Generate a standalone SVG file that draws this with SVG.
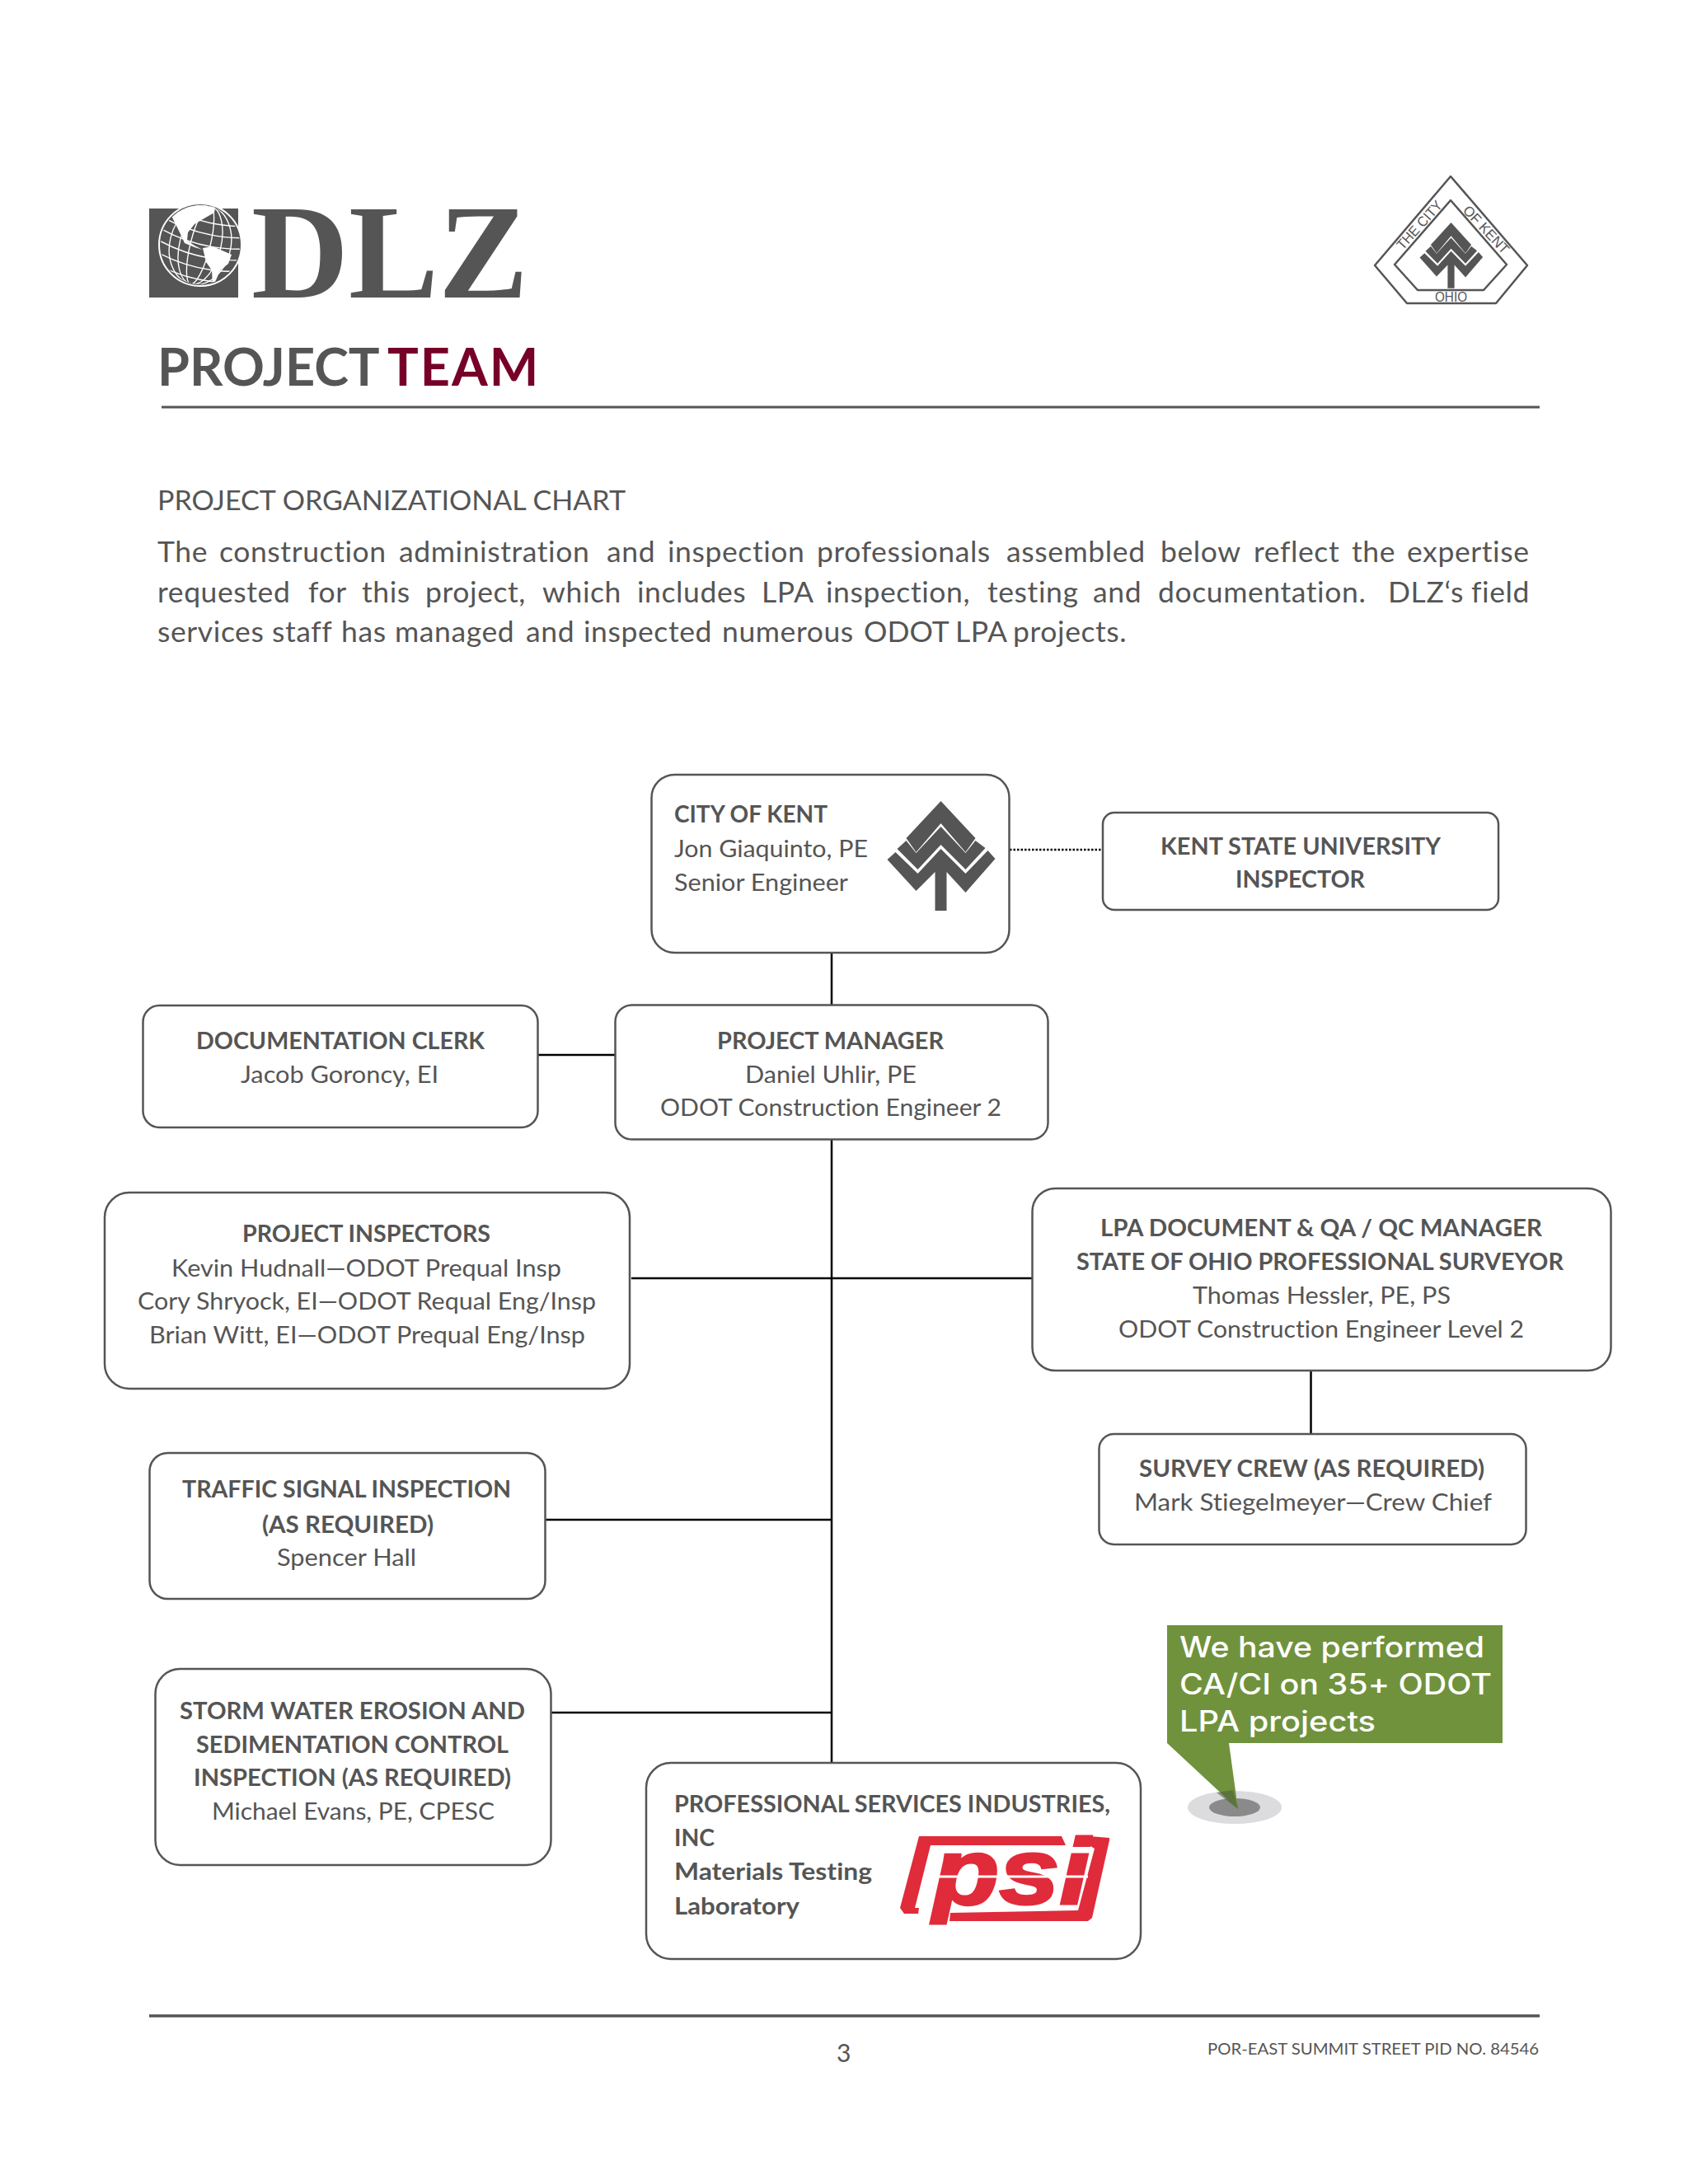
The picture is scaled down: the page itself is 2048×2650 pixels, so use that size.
<svg xmlns="http://www.w3.org/2000/svg" width="2048" height="2650" viewBox="0 0 2048 2650">
<style>
text{font-family:"Lato","Carlito","Liberation Sans",sans-serif;fill:#555;font-variant-ligatures:none}
.t{font-size:29px}
.b{font-size:29px;font-weight:700}
.p{font-size:35.5px;letter-spacing:.6px}
.box{fill:#fff;stroke:#555;stroke-width:2.5}
.conn{stroke:#000;stroke-width:2.5;fill:none}
.seal{fill:none;stroke:#555;stroke-width:2.5;stroke-linejoin:round}
.sealt{font-family:"Liberation Sans",sans-serif;font-size:17px;fill:#555}
.grid{fill:none;stroke:#fff;stroke-width:1.4}
.call{font-family:"Inter","Liberation Sans",sans-serif;font-size:35px;font-weight:500;fill:#fff}
.red{fill:#e02b3b}
</style>
<defs>
<symbol id="tree" overflow="visible">
<path fill="#555" d="M0 0L42 45L30 62L0 27L-30 62L-42 45ZM-42 48L-30 63L0 31L30 63L42 48L54 57L30 83L0 53L-28 83L-53 58ZM-55 62L-28 88L0 58L30 88L57 60L66 70L30 111L7 86L7 133L-7 133L-7 86L-30 109L-65 71Z"/>
</symbol>
<clipPath id="gc"><circle cx="243" cy="297" r="48"/></clipPath>
</defs>
<rect width="2048" height="2650" fill="#fff"/>

<g id="logo-dlz">
<rect x="181" y="253" width="108" height="108" fill="#555"/>
<circle cx="243" cy="297" r="50" fill="#555" stroke="#fff" stroke-width="2"/>
<g clip-path="url(#gc)">
<g class="grid" transform="rotate(14 243 297)">
<ellipse cx="243" cy="297" rx="12" ry="49"/><ellipse cx="243" cy="297" rx="25" ry="49"/><ellipse cx="243" cy="297" rx="37" ry="49"/>
<path d="M195 262Q243 275 291 262M193 276Q243 289 293 276M193 290Q243 303 293 290M193 304Q243 317 293 304M193 318Q243 331 293 318M195 332Q243 345 291 332"/>
</g>
<path fill="#fff" d="M208 262L225 250L262 247L260 258L246 266L236 272L228 282L227 292L236 298L246 303L236 300L224 295L218 282Z"/>
<path fill="#fff" d="M246 301L258 299L272 305L281 309L277 320L267 328L262 340L258 346L257 328L250 318Z"/>
</g>
<text x="305" y="361" font-size="164" font-weight="700" textLength="336" lengthAdjust="spacingAndGlyphs" style="font-family:'Liberation Serif',serif;fill:#555">DLZ</text>
</g>

<g id="logo-kent">
<path class="seal" d="M1760 214L1853 322L1815 368L1707 368L1668 322Z"/>
<path class="seal" d="M1760 243L1828 321L1800 352L1720 352L1692 321Z"/>
<use href="#tree" transform="translate(1760.5 270) scale(.585 .6)"/>
<text class="sealt" transform="translate(1702 304) rotate(-48)" textLength="73" lengthAdjust="spacingAndGlyphs">THE CITY</text>
<text class="sealt" transform="translate(1774 256) rotate(47)" textLength="73" lengthAdjust="spacingAndGlyphs">OF KENT</text>
<text class="sealt" x="1741" y="366" textLength="39" lengthAdjust="spacingAndGlyphs">OHIO</text>
</g>

<g id="heading">
<text x="191" y="468" font-size="63" font-weight="700">PROJECT <tspan x="470" letter-spacing="2" style="fill:#760028">TEAM</tspan></text>
<line x1="196" y1="494" x2="1868" y2="494" stroke="#555" stroke-width="3"/>
</g>

<g id="intro">
<text x="191" y="619" font-size="33" textLength="568" lengthAdjust="spacingAndGlyphs">PROJECT ORGANIZATIONAL CHART</text>
<text class="p" y="682"><tspan x="191">The</tspan> <tspan x="266">construction</tspan> <tspan x="484">administration</tspan> <tspan x="736">and</tspan> <tspan x="810">inspection</tspan> <tspan x="991">professionals</tspan> <tspan x="1221">assembled</tspan> <tspan x="1408">below</tspan> <tspan x="1521">reflect</tspan> <tspan x="1640">the</tspan> <tspan x="1707">expertise</tspan></text>
<text class="p" y="731"><tspan x="191">requested</tspan> <tspan x="374">for</tspan> <tspan x="439">this</tspan> <tspan x="516">project,</tspan> <tspan x="658">which</tspan> <tspan x="773">includes</tspan> <tspan x="924">LPA</tspan> <tspan x="1002">inspection,</tspan> <tspan x="1198">testing</tspan> <tspan x="1326">and</tspan> <tspan x="1405">documentation.</tspan> <tspan x="1684">DLZ‘s</tspan> <tspan x="1785">field</tspan></text>
<text class="p" y="779"><tspan x="191">services</tspan> <tspan x="330">staff</tspan> <tspan x="414">has</tspan> <tspan x="479">managed</tspan> <tspan x="638">and</tspan> <tspan x="708">inspected</tspan> <tspan x="876">numerous</tspan> <tspan x="1048" letter-spacing="0">ODOT</tspan> <tspan x="1159">LPA</tspan> <tspan x="1229">projects.</tspan></text>
</g>

<g id="connectors">
<path class="conn" d="M1009 1156V1219M652 1280H746M1009 1382V2139M766 1551H1252M661 1844H1009M668 2078H1009M1590.500 1663V1739"/>
<line x1="1225" y1="1031" x2="1341" y2="1031" stroke="#000" stroke-width="2.5" stroke-dasharray="2.5 2"/>
</g>

<g id="node-city">
<rect class="box" x="790.500" y="940" width="434" height="216" rx="28"/>
<text class="b" x="818" y="998" textLength="186" lengthAdjust="spacingAndGlyphs">CITY OF KENT</text>
<text class="t" x="818" y="1040" textLength="235" lengthAdjust="spacingAndGlyphs">Jon Giaquinto, PE</text>
<text class="t" x="818" y="1081" textLength="211" lengthAdjust="spacingAndGlyphs">Senior Engineer</text>
<use href="#tree" transform="translate(1141.500 972)"/>
</g>
<g id="node-kent-state">
<rect class="box" x="1338" y="986" width="480" height="118" rx="14"/>
<text class="b" x="1408" y="1037" textLength="340" lengthAdjust="spacingAndGlyphs">KENT STATE UNIVERSITY</text>
<text class="b" x="1499" y="1077" textLength="157" lengthAdjust="spacingAndGlyphs">INSPECTOR</text>
</g>
<g id="node-doc-clerk">
<rect class="box" x="173.500" y="1220" width="479" height="148" rx="20"/>
<text class="b" x="238" y="1273" textLength="350" lengthAdjust="spacingAndGlyphs">DOCUMENTATION CLERK</text>
<text class="t" x="292" y="1314" textLength="240" lengthAdjust="spacingAndGlyphs">Jacob Goroncy, EI</text>
</g>
<g id="node-pm">
<rect class="box" x="746.500" y="1219.500" width="525" height="163" rx="20"/>
<text class="b" x="870" y="1273" textLength="275" lengthAdjust="spacingAndGlyphs">PROJECT MANAGER</text>
<text class="t" x="904" y="1314" textLength="208" lengthAdjust="spacingAndGlyphs">Daniel Uhlir, PE</text>
<text class="t" x="801" y="1354" textLength="414" lengthAdjust="spacingAndGlyphs">ODOT Construction Engineer 2</text>
</g>
<g id="node-inspectors">
<rect class="box" x="127" y="1447" width="637" height="238" rx="30"/>
<text class="b" x="294" y="1507" textLength="301" lengthAdjust="spacingAndGlyphs">PROJECT INSPECTORS</text>
<text class="t" x="208" y="1549" textLength="473" lengthAdjust="spacingAndGlyphs">Kevin Hudnall—ODOT Prequal Insp</text>
<text class="t" x="167" y="1589" textLength="556" lengthAdjust="spacingAndGlyphs">Cory Shryock, EI—ODOT Requal Eng/Insp</text>
<text class="t" x="181" y="1630" textLength="529" lengthAdjust="spacingAndGlyphs">Brian Witt, EI—ODOT Prequal Eng/Insp</text>
</g>
<g id="node-lpa">
<rect class="box" x="1252.500" y="1442" width="702" height="221" rx="28"/>
<text class="b" x="1335" y="1500" textLength="536" lengthAdjust="spacingAndGlyphs">LPA DOCUMENT &amp; QA / QC MANAGER</text>
<text class="b" x="1306" y="1541" textLength="591" lengthAdjust="spacingAndGlyphs">STATE OF OHIO PROFESSIONAL SURVEYOR</text>
<text class="t" x="1447" y="1582" textLength="313" lengthAdjust="spacingAndGlyphs">Thomas Hessler, PE, PS</text>
<text class="t" x="1357" y="1623" textLength="492" lengthAdjust="spacingAndGlyphs">ODOT Construction Engineer Level 2</text>
</g>
<g id="node-survey">
<rect class="box" x="1333.500" y="1740" width="518" height="134" rx="18"/>
<text class="b" x="1382" y="1792" textLength="419" lengthAdjust="spacingAndGlyphs">SURVEY CREW (AS REQUIRED)</text>
<text class="t" x="1376" y="1833" textLength="434" lengthAdjust="spacingAndGlyphs">Mark Stiegelmeyer—Crew Chief</text>
</g>
<g id="node-traffic">
<rect class="box" x="181.500" y="1763" width="480" height="177" rx="22"/>
<text class="b" x="221" y="1817" textLength="399" lengthAdjust="spacingAndGlyphs">TRAFFIC SIGNAL INSPECTION</text>
<text class="b" x="318" y="1860" textLength="208" lengthAdjust="spacingAndGlyphs">(AS REQUIRED)</text>
<text class="t" x="336" y="1900" textLength="169" lengthAdjust="spacingAndGlyphs">Spencer Hall</text>
</g>
<g id="node-storm">
<rect class="box" x="188.500" y="2025" width="480" height="238" rx="30"/>
<text class="b" x="218" y="2086" textLength="419" lengthAdjust="spacingAndGlyphs">STORM WATER EROSION AND</text>
<text class="b" x="238" y="2127" textLength="379" lengthAdjust="spacingAndGlyphs">SEDIMENTATION CONTROL</text>
<text class="b" x="235" y="2167" textLength="385" lengthAdjust="spacingAndGlyphs">INSPECTION (AS REQUIRED)</text>
<text class="t" x="257" y="2208" textLength="343" lengthAdjust="spacingAndGlyphs">Michael Evans, PE, CPESC</text>
</g>
<g id="node-psi">
<rect class="box" x="784" y="2139" width="600" height="238" rx="30"/>
<text class="b" x="818" y="2199" textLength="529" lengthAdjust="spacingAndGlyphs">PROFESSIONAL SERVICES INDUSTRIES,</text>
<text class="b" x="818" y="2240" textLength="49" lengthAdjust="spacingAndGlyphs">INC</text>
<text class="b" x="818" y="2281" textLength="240" lengthAdjust="spacingAndGlyphs">Materials Testing</text>
<text class="b" x="818" y="2323" textLength="152" lengthAdjust="spacingAndGlyphs">Laboratory</text>
<path class="red" d="M1115 2228L1288 2228L1293 2239L1129 2239L1110 2315L1115 2315L1114 2322L1097 2322L1092 2315Z"/>
<path class="red" d="M1322 2228L1346 2230L1346 2233L1325 2327L1320 2331L1152 2331L1153 2321L1308 2318L1328 2243L1320 2238Z"/>
<text x="1132" y="2310" font-size="114" font-weight="700" font-style="italic" textLength="190" lengthAdjust="spacingAndGlyphs" stroke="#e02b3b" stroke-width="3" style="font-family:'Liberation Sans',sans-serif;fill:#e02b3b">psi</text>
<line x1="1130" y1="2277" x2="1320" y2="2277" stroke="#fff" stroke-width="3"/>
</g>

<g id="callout">
<ellipse cx="1498" cy="2193" rx="57" ry="20" fill="#dcdcdf"/>
<ellipse cx="1498" cy="2193" rx="31" ry="11" fill="#8a8a8a"/>
<path d="M1416 1972H1823V2115H1491L1502 2195L1416 2115Z" fill="#70923d"/>
<path d="M1476 2175L1496 2172L1502 2195Z" fill="#4e5f40" opacity=".6"/>
<text class="call" x="1431" y="2011" textLength="370" lengthAdjust="spacingAndGlyphs">We have performed</text>
<text class="call" x="1431" y="2056" textLength="379" lengthAdjust="spacingAndGlyphs">CA/CI on 35+ ODOT</text>
<text class="call" x="1431" y="2101" textLength="238" lengthAdjust="spacingAndGlyphs">LPA projects</text>
</g>

<g id="footer">
<line x1="181" y1="2446" x2="1868" y2="2446" stroke="#555" stroke-width="3.500"/>
<text x="1015" y="2502" font-size="30">3</text>
<text x="1465" y="2493" font-size="20" textLength="402" lengthAdjust="spacingAndGlyphs">POR-EAST SUMMIT STREET PID NO. 84546</text>
</g>
</svg>
